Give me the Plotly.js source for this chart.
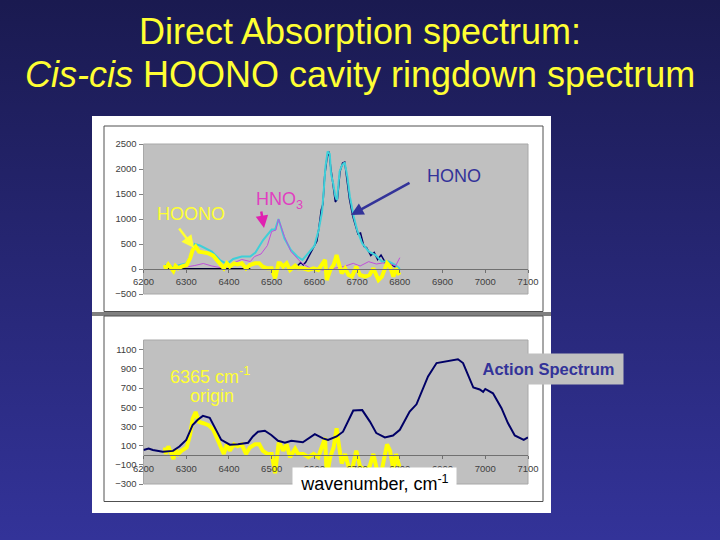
<!DOCTYPE html>
<html><head><meta charset="utf-8">
<script src="https://cdn.plot.ly/plotly-3.0.1.min.js"></script>
<style>html,body{margin:0;padding:0;width:720px;height:540px;overflow:hidden;background:linear-gradient(180deg,#1a1a50 0%,#333399 100%)}#c{width:720px;height:540px}</style>
</head><body><div id="c"></div>
<script>
const yellowX=[6250,6252,6258,6263,6270,6275,6281,6289,6301,6309,6315,6322,6330,6340,6352,6363,6373,6383,6388,6395,6402,6412,6420,6430,6440,6449,6461,6471,6479,6490,6500,6508,6516,6520,6527,6535,6543,6555,6562,6574,6586,6598,6609,6617,6625,6629,6637,6645,6652,6656,6664,6672,6680,6688,6698,6707,6719,6729,6738,6750,6758,6770,6777,6785,6791,6799];
const yellowY=[80,13,93,33,-40,60,13,47,80,213,380,450,347,333,313,267,160,47,13,113,47,113,93,113,13,80,113,113,47,13,13,-187,113,113,47,113,-20,67,13,13,-20,13,-20,80,180,-220,-20,80,280,147,-87,13,-120,-153,47,-120,-153,-120,13,-220,-153,113,47,-153,13,-120];
const cyanX=[6250,6258,6270,6285,6300,6310,6320,6332,6342,6360,6380,6395,6410,6430,6450,6462,6480,6492,6500,6508,6516,6530,6545,6560,6572,6590,6600,6610,6618,6622,6626,6631,6636,6639,6644,6649,6653,6659,6665,6671,6677,6683,6692,6700,6712,6727,6743,6758,6774,6790,6800];
const cyanY=[80,60,40,80,110,250,500,470,430,350,170,100,200,250,250,330,580,700,790,790,1000,610,380,250,180,360,460,780,1150,1580,2050,2350,2300,1900,1710,1450,1380,1950,2080,2130,1850,1450,1050,780,510,350,280,150,150,80,0];
const navyX=[6560,6568,6574,6580,6590,6600,6606,6610,6616,6620,6624,6630,6634,6638,6644,6649,6654,6660,6666,6671,6676,6682,6690,6696,6702,6708,6716,6722,6732,6740,6748,6756,6766,6778,6790];
const navyY=[60,130,80,140,300,460,560,790,1180,1300,1850,2250,2350,2050,1700,1340,1400,1950,2120,2140,1800,1400,1050,880,700,720,450,430,270,330,190,280,130,100,40];
const baseX=[6255,6450];
const baseY=[0,0];
const magentaX=[6290,6300,6320,6340,6360,6390,6410,6430,6450,6460,6475,6490,6500,6510,6516,6530,6545,6560,6570,6590,6620,6650,6668,6691,6707,6727,6745,6760,6775,6790,6800];
const magentaY=[10,40,70,110,60,10,120,190,150,250,300,470,750,780,1000,650,350,220,120,20,-20,20,47,113,60,147,100,120,110,60,227];
const actionX=[6200,6212,6222,6245,6269,6284,6300,6315,6327,6339,6355,6366,6382,6402,6421,6445,6456,6468,6484,6499,6515,6531,6546,6573,6601,6620,6632,6652,6667,6691,6712,6730,6745,6765,6784,6800,6823,6839,6866,6886,6913,6936,6948,6972,6987,6995,7000,7018,7038,7053,7069,7090,7100];
const actionY=[55,70,55,35,45,90,160,315,370,410,390,300,160,110,115,130,195,245,255,210,150,130,150,135,220,175,160,195,245,465,470,350,230,185,205,265,455,530,820,960,985,1000,960,705,685,660,690,645,490,335,205,160,185];
const xTicks=[6200,6300,6400,6500,6600,6700,6800,6900,7000,7100];
const xTickText=xTicks.map(String);

const px=v=>v/720, py=v=>1-v/540;
const F='"Liberation Sans",Arial,sans-serif';
const tickFont={family:F,size:9.5,color:'#404040'};
const xBase={domain:[px(143.5),px(528)],range:[6200,7100],tickvals:xTicks,ticktext:xTickText,tickangle:0,showgrid:false,zeroline:false,
  showline:true,linecolor:'#707070',linewidth:1,ticks:'outside',ticklen:3,tickcolor:'#707070',tickfont:tickFont,anchor:'free',ticklabelstandoff:1};
const yBase={showgrid:false,zeroline:false,showline:false,ticks:'outside',ticklen:4,tickcolor:'#808080',tickfont:tickFont};
function rect(x0,y0,x1,y1,fill,line){return {type:'rect',xref:'paper',yref:'paper',layer:'below',x0:px(x0),x1:px(x1),y0:py(y1),y1:py(y0),fillcolor:fill,line:{color:line||fill,width:line?1:0}};}
function label(text,x,y,color,size,extra){return Object.assign({text,xref:'paper',yref:'paper',x:px(x),y:py(y),xanchor:'center',yanchor:'middle',showarrow:false,font:{family:F,size,color}},extra||{});}
function arrow(x0,y0,x1,y1,color,w){return {text:'',xref:'paper',yref:'paper',x:px(x1),y:py(y1),ax:x0-x1,ay:y0-y1,axref:'pixel',ayref:'pixel',showarrow:true,arrowhead:2,arrowsize:1,arrowwidth:w,arrowcolor:color};}

const line=(x,y,color,width,xa,ya)=>({type:'scatter',mode:'lines',x,y,xaxis:xa,yaxis:ya,line:{color,width},hoverinfo:'skip',showlegend:false});
const traces=[
  line(navyX,navyY,'#000066',1.5,'x','y'),
  line(cyanX,cyanY,'#3fcfd8',2,'x','y'),
  line(magentaX,magentaY,'#c050d8',1,'x','y'),
  line(baseX,baseY,'#000033',2,'x','y'),
  line(yellowX,yellowY,'#ffff00',4,'x','y'),
  line(yellowX,yellowY,'#ffff00',4,'x2','y2'),
  line(actionX,actionY,'#000066',2,'x2','y2')
];
const layout={width:720,height:540,margin:{l:0,r:0,t:0,b:0},paper_bgcolor:'rgba(0,0,0,0)',plot_bgcolor:'#c0c0c0',showlegend:false,
  title:{text:'Direct Absorption spectrum:',x:0.5,xanchor:'center',xref:'paper',y:py(31),yref:'paper',yanchor:'middle',font:{family:F,size:36,color:'#ffff33'}},
  xaxis:Object.assign({},xBase,{position:py(269)}),
  yaxis:Object.assign({},yBase,{domain:[py(294),py(144)],range:[-500,2500],dtick:500,tick0:-500,anchor:'x'}),
  xaxis2:Object.assign({},xBase,{position:py(455.2)}),
  yaxis2:Object.assign({},yBase,{domain:[py(484),py(340)],range:[-300,1200],dtick:200,tick0:-300,anchor:'x2'}),
  shapes:[
    rect(92,116,551,513,'#ffffff'),
    rect(104,126,543,311.5,'#ffffff','#505050'),
    rect(92,312,551,316,'#808080'),
    rect(104,316,543,501.5,'#ffffff','#505050'),
    rect(143.5,144,528,294,'#c0c0c0','#a8a8a8'),
    rect(143.5,340,528,484,'#c0c0c0','#a8a8a8')
  ],
  annotations:[
    label('<i>Cis-cis</i> HOONO cavity ringdown spectrum',360,74,'#ffff33',36),
    label('HOONO',191,214,'#ffff33',18),
    label('HNO<sub>3</sub>',279,200,'#e040c0',18),
    label('HONO',454,176,'#333399',18),
    arrow(178,227,194,248,'#ffff33',2.5),
    arrow(261,210,264,228,'#e020b0',2.5),
    arrow(411,182,351,215,'#333399',2.5),
    label('6365 cm<sup>-1</sup>',210,375,'#ffff33',18),
    label('origin',212,396,'#ffff33',18),
    label('<b>Action Spectrum</b>',548,369,'#333399',16.5,{bgcolor:'#c0c0c0',width:149,height:30,borderpad:0}),
    label('wavenumber, cm<sup>-1</sup>',374,483,'#000000',18,{bgcolor:'#ffffff',width:163,height:30,borderpad:0})
  ]
};
Plotly.newPlot('c',traces,layout,{displayModeBar:false,staticPlot:true});
</script></body></html>
